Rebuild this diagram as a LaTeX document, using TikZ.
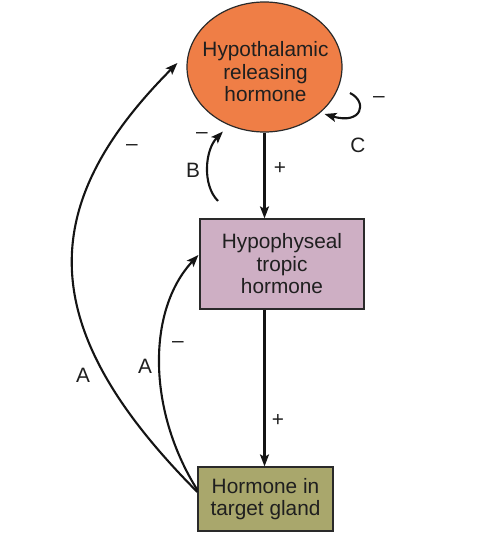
\documentclass[tikz,border=0pt]{standalone}
\usepackage{fontspec}
\setmainfont{Liberation Sans}
\usetikzlibrary{arrows.meta,shapes.geometric}
\definecolor{hypor}{HTML}{EF7E46}
\definecolor{pinkbox}{HTML}{CEAFC4}
\definecolor{olivebox}{HTML}{A9A76C}
\definecolor{edgec}{HTML}{2A2A2A}
\begin{document}
\begin{tikzpicture}[x=1pt,y=-1pt,
  every node/.style={font=\fontsize{20.8}{22.5}\selectfont, text=black!88},
  boxstyle/.style={draw=edgec, line width=1.2pt, align=center, inner sep=0pt},
  conn/.style={line width=2.1pt, black!92, -{Stealth[length=12pt,width=9pt,inset=2.5pt]}},
  lbl/.style={inner sep=0pt}
]
\useasboundingbox (0,0) rectangle (500,535);
\node[ellipse, boxstyle, fill=hypor, minimum width=155pt, minimum height=130pt] (hyp) at (264.5,67) {};
\node[align=center, inner sep=0pt] (hyptext) at (265.5,72) {Hypothalamic\\releasing\\hormone};
\node[boxstyle, fill=pinkbox, minimum width=164pt, minimum height=90pt] (pink) at (282,264) {Hypophyseal\\tropic\\hormone};
\node[boxstyle, fill=olivebox, minimum width=135pt, minimum height=64pt] (green) at (265.5,499) {Hormone in\\target gland};

% vertical arrows
\draw[conn] (hyp.south) -- (hyp.south |- pink.north);
\draw[conn] (hyp.south |- pink.south) -- (hyp.south |- green.north);

% A long
\draw[conn] ([yshift=7pt]green.west) .. controls (34.5,328.5) and (34.5,206.5) .. ([xshift=-9pt,yshift=4pt]hyp.west);
% A short
\draw[conn] ([yshift=9pt]green.west) .. controls (147,410) and (147,310) .. ([xshift=-1pt,yshift=9pt]pink.west);
% B
\coordinate (bstart) at (218,201);
\draw[conn] (bstart) .. controls (202,185) and (205,150) .. ([xshift=-2pt,yshift=-8pt]hyp.235);
% C
\coordinate (cstart) at (350,93);
\draw[conn] (cstart) .. controls (368,102) and (362,125) .. ([yshift=-5pt]hyp.-35);

% labels
\node[lbl] (m1) at (132,148) {–};
\node[lbl] (a1) at (83,375) {A};
\node[lbl] (m2) at (178,345) {–};
\node[lbl] (a2) at (145,366) {A};
\node[lbl] (bl) at (193,170) {B};
\node[lbl] (m3) at (202,136) {–};
\node[lbl] (p1) at (280,168) {+};
\node[lbl] (cl) at (358,145) {C};
\node[lbl] (m4) at (379,100) {–};
\node[lbl] (p2) at (278,420) {+};
\end{tikzpicture}
\end{document}
